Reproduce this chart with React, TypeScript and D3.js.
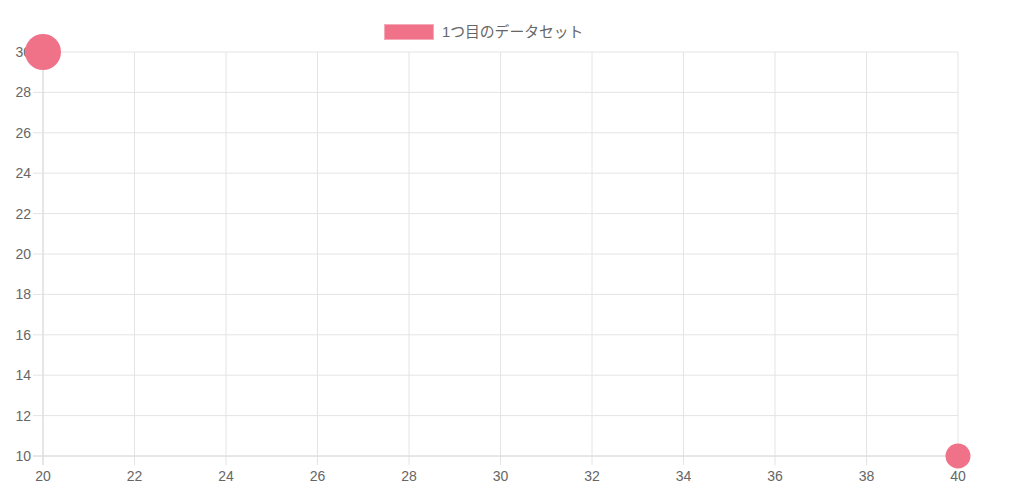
import React from 'react'
import * as d3 from 'd3'

const datasetLabel = '1つ目のデータセット'
const xValues = [20, 40]
const yValues = [30, 10]
const radii = [18, 12.5]
const xTicks = [20, 22, 24, 26, 28, 30, 32, 34, 36, 38, 40]
const yTicks = [10, 12, 14, 16, 18, 20, 22, 24, 26, 28, 30]

const W = 1024
const H = 500
const left = 43
const right = 958
const top = 52
const bottom = 456
const pink = 'rgb(240,114,137)'
const gridColor = '#e4e4e4'
const textColor = '#666'
const font = '"Liberation Sans", "Noto Sans CJK JP", sans-serif'

const App = () => {
  const x = d3.scaleLinear().domain([20, 40]).range([left, right])
  const y = d3.scaleLinear().domain([10, 30]).range([bottom, top])

  return (
    <svg
      width={W}
      height={H}
      style={{ position: 'absolute', left: 0, top: 0, background: '#fff' }}
      fontFamily={font}
    >
      {/* legend */}
      <rect x={384.5} y={24.5} width={49} height={15} fill={pink} stroke="rgb(246,170,185)" strokeWidth={1} />
      <text x={442} y={37} fontSize={14.8} fill={textColor}>{datasetLabel}</text>

      {/* vertical grid */}
      {xTicks.map((t) => (
        <line key={'vx' + t} x1={x(t)} x2={x(t)} y1={top} y2={bottom + 9} stroke={gridColor} strokeWidth={1} />
      ))}
      {/* horizontal grid */}
      {yTicks.map((t) => (
        <line key={'hy' + t} x1={left - 10} x2={right} y1={y(t)} y2={y(t)} stroke={gridColor} strokeWidth={1} />
      ))}
      <line x1={left} x2={left} y1={top} y2={bottom + 9} stroke="#dcdcdc" strokeWidth={1} />
      <line x1={left - 10} x2={right} y1={bottom} y2={bottom} stroke="#dcdcdc" strokeWidth={1} />

      {/* tick labels */}
      {yTicks.map((t) => (
        <text key={'ly' + t} x={left - 12} y={y(t) + 5} fontSize={14} fill={textColor} textAnchor="end">{t}</text>
      ))}
      {xTicks.map((t) => (
        <text key={'lx' + t} x={x(t)} y={481} fontSize={14} fill={textColor} textAnchor="middle">{t}</text>
      ))}

      {/* bubbles */}
      {xValues.map((v, i) => (
        <circle key={'b' + i} cx={x(v)} cy={y(yValues[i])} r={radii[i]} fill={pink} />
      ))}
    </svg>
  )
}

export default App
